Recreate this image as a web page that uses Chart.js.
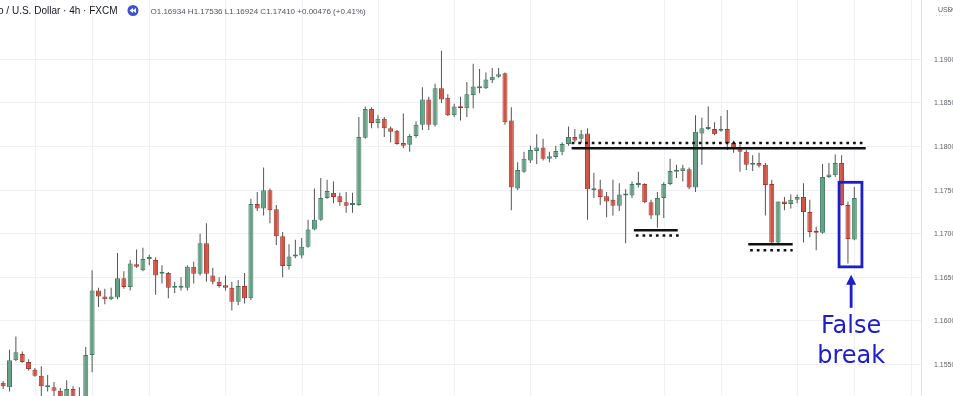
<!DOCTYPE html>
<html>
<head>
<meta charset="utf-8">
<script src="https://cdn.jsdelivr.net/npm/chart.js@4.4.1/dist/chart.umd.min.js"></script>
<style>
  html, body { margin: 0; padding: 0; background: #ffffff; }
  #wrap { width: 953px; height: 396px; position: relative; }
</style>
</head>
<body>
<div id="wrap"><canvas id="priceChart"></canvas></div>
<script>
// EUR/USD 4h candles
const opens = [
  1.1529, 1.1524, 1.1555, 1.1562, 1.1553, 1.1544, 1.1537, 1.1524, 1.1524, 1.1520,
  1.1509, 1.1522, 1.1513, 1.1503, 1.1561, 1.1635, 1.1628, 1.1625, 1.1627, 1.1649,
  1.1639, 1.1665, 1.1658, 1.1671, 1.1670, 1.1654, 1.1655, 1.1638, 1.1638, 1.1638,
  1.1662, 1.1654, 1.1689, 1.1652, 1.1645, 1.1641, 1.1638, 1.1622, 1.1640, 1.1626,
  1.1734, 1.1729, 1.1750, 1.1728, 1.1697, 1.1663, 1.1674, 1.1675, 1.1685, 1.1705,
  1.1716, 1.1741, 1.1747, 1.1743, 1.1736, 1.1733, 1.1733, 1.1810, 1.1843, 1.1827,
  1.1832, 1.1821, 1.1818, 1.1804, 1.1802, 1.1812, 1.1825, 1.1854, 1.1825, 1.1867,
  1.1856, 1.1836, 1.1846, 1.1844, 1.1859, 1.1867, 1.1867, 1.1876, 1.1880, 1.1884,
  1.1830, 1.1752, 1.1771, 1.1784, 1.1795, 1.1799, 1.1786, 1.1788, 1.1794, 1.1803,
  1.1811, 1.1809, 1.1815, 1.1750, 1.1751, 1.1743, 1.1739, 1.1732, 1.1744, 1.1744,
  1.1756, 1.1757, 1.1736, 1.1721, 1.1741, 1.1757, 1.1771, 1.1772, 1.1774, 1.1753,
  1.1815, 1.1820, 1.1820, 1.1818, 1.1820, 1.1804, 1.1798, 1.1794, 1.1779, 1.1781,
  1.1779, 1.1757, 1.1690, 1.1737, 1.1734, 1.1739, 1.1742, 1.1725, 1.1703, 1.1701,
  1.1765, 1.1767, 1.1781, 1.1733, 1.16934
];
const highs = [
  1.1531, 1.1567, 1.1582, 1.1565, 1.1556, 1.1546, 1.1548, 1.1538, 1.1530, 1.1523,
  1.1532, 1.1525, 1.1524, 1.1570, 1.1658, 1.1638, 1.1637, 1.1638, 1.1678, 1.1657,
  1.1670, 1.1682, 1.1684, 1.1676, 1.1673, 1.1664, 1.1656, 1.1645, 1.1650, 1.1664,
  1.1668, 1.1700, 1.1712, 1.1661, 1.1650, 1.1652, 1.1645, 1.1647, 1.1655, 1.1740,
  1.1748, 1.1776, 1.1752, 1.1733, 1.1702, 1.1688, 1.1693, 1.1695, 1.1716, 1.1752,
  1.1764, 1.1762, 1.1760, 1.1747, 1.1748, 1.1747, 1.1834, 1.1846, 1.1845, 1.1836,
  1.1834, 1.1823, 1.1819, 1.1838, 1.1814, 1.1829, 1.1868, 1.1857, 1.1872, 1.1910,
  1.1860, 1.1849, 1.1857, 1.1874, 1.1895, 1.1889, 1.1885, 1.1890, 1.1890, 1.1885,
  1.1845, 1.1782, 1.1794, 1.1801, 1.1814, 1.1809, 1.1794, 1.1801, 1.1805, 1.1823,
  1.1820, 1.1819, 1.1821, 1.1770, 1.1762, 1.1748, 1.1762, 1.1758, 1.1751, 1.1760,
  1.1771, 1.1758, 1.1739, 1.1748, 1.1759, 1.1786, 1.1779, 1.1779, 1.1776, 1.1836,
  1.1833, 1.1846, 1.1828, 1.1835, 1.1842, 1.1807, 1.1802, 1.1796, 1.1790, 1.1793,
  1.1781, 1.1762, 1.1737, 1.1742, 1.1745, 1.1745, 1.1758, 1.1739, 1.1708, 1.1780,
  1.1781, 1.1791, 1.1790, 1.1737, 1.17536
];
const lows = [
  1.1522, 1.1519, 1.1554, 1.1552, 1.1543, 1.1536, 1.1514, 1.1519, 1.1514, 1.1506,
  1.1506, 1.1505, 1.1496, 1.1500, 1.1541, 1.1616, 1.1619, 1.1624, 1.1625, 1.1637,
  1.1635, 1.1661, 1.1657, 1.1664, 1.1630, 1.1643, 1.1626, 1.1632, 1.1635, 1.1635,
  1.1643, 1.1652, 1.1645, 1.1642, 1.1638, 1.1635, 1.1612, 1.1618, 1.1620, 1.1624,
  1.1726, 1.1721, 1.1712, 1.1687, 1.1650, 1.1659, 1.1672, 1.1672, 1.1684, 1.1704,
  1.1715, 1.1740, 1.1735, 1.1732, 1.1724, 1.1724, 1.1732, 1.1809, 1.1821, 1.1821,
  1.1811, 1.1805, 1.1802, 1.1798, 1.1794, 1.1810, 1.1819, 1.1819, 1.1823, 1.1850,
  1.1835, 1.1834, 1.1830, 1.1834, 1.1844, 1.1861, 1.1866, 1.1873, 1.1879, 1.1825,
  1.1727, 1.1750, 1.1770, 1.1781, 1.1780, 1.1784, 1.1782, 1.1786, 1.1790, 1.1801,
  1.1805, 1.1804, 1.1716, 1.1741, 1.1733, 1.1719, 1.1721, 1.1726, 1.1689, 1.1741,
  1.1753, 1.1735, 1.1717, 1.1707, 1.1718, 1.1756, 1.1764, 1.1760, 1.1751, 1.1748,
  1.1779, 1.1819, 1.1813, 1.1817, 1.1796, 1.1793, 1.1771, 1.1773, 1.1772, 1.1776,
  1.1721, 1.1689, 1.1689, 1.1727, 1.1729, 1.1735, 1.1690, 1.1696, 1.1681, 1.1700,
  1.1764, 1.1765, 1.1732, 1.1666, 1.16924
];
const closes = [
  1.1525, 1.1555, 1.1564, 1.1553, 1.1545, 1.1537, 1.1525, 1.1526, 1.1520, 1.1509,
  1.1522, 1.1509, 1.1500, 1.1561, 1.1635, 1.1628, 1.1625, 1.1628, 1.1649, 1.1639,
  1.1666, 1.1662, 1.1671, 1.1672, 1.1652, 1.1655, 1.1638, 1.1639, 1.1640, 1.1662,
  1.1654, 1.1689, 1.1654, 1.1645, 1.1640, 1.1638, 1.1622, 1.1640, 1.1626, 1.1734,
  1.1729, 1.1750, 1.1727, 1.1697, 1.1663, 1.1674, 1.1675, 1.1685, 1.1705, 1.1716,
  1.1741, 1.1749, 1.1742, 1.1736, 1.1732, 1.1734, 1.1811, 1.1843, 1.1827, 1.1832,
  1.1821, 1.1817, 1.1803, 1.1801, 1.1812, 1.1825, 1.1854, 1.1825, 1.1867, 1.1854,
  1.1836, 1.1846, 1.1844, 1.1860, 1.1869, 1.1869, 1.1877, 1.1880, 1.1883, 1.1828,
  1.1753, 1.1773, 1.1786, 1.1796, 1.1799, 1.1786, 1.1789, 1.1795, 1.1803, 1.1811,
  1.1807, 1.1814, 1.1751, 1.1752, 1.1742, 1.1737, 1.1732, 1.1745, 1.1745, 1.1757,
  1.1757, 1.1736, 1.1721, 1.1741, 1.1757, 1.1772, 1.1773, 1.1775, 1.1753, 1.1817,
  1.1821, 1.1822, 1.1814, 1.1820, 1.1804, 1.1799, 1.1794, 1.1779, 1.1781, 1.1778,
  1.1756, 1.1690, 1.1737, 1.1734, 1.1739, 1.1742, 1.1725, 1.1702, 1.1701, 1.1765,
  1.1768, 1.1781, 1.1733, 1.1694, 1.17410
];

// 145 time slots; the last ones stay empty (right margin of the chart)
const slots = Array.from({ length: 145 }, (_, i) => i);
// candle index of each vertical time grid line
const timeGrid = [5, 14, 23, 35, 47, 59, 71, 83, 104, 113, 125, 134, 143];
const priceTicks = [1.155, 1.16, 1.165, 1.17, 1.175, 1.18, 1.185, 1.19];

// hand-drawn levels (candle index range, price)
const levels = [
  { price: 1.1798, from: 89.5, to: 135.8, dotted: false },
  { price: 1.1804, from: 89.5, to: 135.3, dotted: true },
  { price: 1.1704, from: 99.3, to: 106.2, dotted: false },
  { price: 1.1698, from: 99.6, to: 106.4, dotted: true },
  { price: 1.1688, from: 117.3, to: 124.3, dotted: false },
  { price: 1.1681, from: 117.6, to: 124.3, dotted: true },
];
const breakBox = { from: 131.6, to: 135.2, top: 1.1759, bottom: 1.1662 };
const arrow = { at: 133.5, tip: 1.1653, tail: 1.1615 };
const noteLines = [
  { text: "False", price: 1.1586 },
  { text: "break", price: 1.1552 },
];

const header = "Euro / U.S. Dollar · 4h · FXCM";
const ohlcText = "O1.16934 H1.17536 L1.16924 C1.17410 +0.00476 (+0.41%)";

// price shown at the very top of the window and price per pixel
const TOP_PRICE = 1.19681, PER_PX = 0.0001147;

const UP = "#66a086", UP_EDGE = "#3f7c61";
const DOWN = "#cf5447", DOWN_EDGE = "#a5372c";
const WICK = "#545454";
const BLUE = "#1d1dc9";
const GRID = "#eef0f4";
const AXIS_TEXT = "#5f626c";

const isUp = opens.map((o, i) => closes[i] >= o);

const annotations = {
  id: "annotations",
  beforeDatasetsDraw(chart) {
    // vertical time grid
    const { ctx, chartArea, scales: { x } } = chart;
    ctx.save();
    ctx.strokeStyle = GRID;
    ctx.lineWidth = 1;
    timeGrid.forEach((t) => {
      const px = Math.round(x.getPixelForValue(t)) + 0.5;
      ctx.beginPath();
      ctx.moveTo(px, chartArea.top);
      ctx.lineTo(px, chartArea.bottom);
      ctx.stroke();
    });
    ctx.restore();
  },
  afterDatasetsDraw(chart) {
    const { ctx, scales: { x, y } } = chart;
    ctx.save();

    // support / resistance lines
    levels.forEach((l) => {
      ctx.beginPath();
      ctx.strokeStyle = "#111111";
      ctx.lineWidth = 2.6;
      ctx.setLineDash(l.dotted ? [2.7, 4] : []);
      const py = y.getPixelForValue(l.price);
      ctx.moveTo(x.getPixelForValue(l.from), py);
      ctx.lineTo(x.getPixelForValue(l.to), py);
      ctx.stroke();
    });
    ctx.setLineDash([]);

    // box round the false break candles
    const bx1 = x.getPixelForValue(breakBox.from);
    const bx2 = x.getPixelForValue(breakBox.to);
    const by1 = y.getPixelForValue(breakBox.top);
    const by2 = y.getPixelForValue(breakBox.bottom);
    ctx.strokeStyle = BLUE;
    ctx.lineWidth = 2.8;
    ctx.strokeRect(bx1, by1, bx2 - bx1, by2 - by1);

    // arrow
    const ax = x.getPixelForValue(arrow.at);
    const tipY = y.getPixelForValue(arrow.tip);
    const tailY = y.getPixelForValue(arrow.tail);
    ctx.beginPath();
    ctx.lineWidth = 2.8;
    ctx.moveTo(ax, tailY);
    ctx.lineTo(ax, tipY + 8);
    ctx.stroke();
    ctx.beginPath();
    ctx.fillStyle = BLUE;
    ctx.moveTo(ax, tipY);
    ctx.lineTo(ax - 5, tipY + 10);
    ctx.lineTo(ax + 5, tipY + 10);
    ctx.closePath();
    ctx.fill();

    // label
    ctx.font = '24px "DejaVu Sans"';
    ctx.textAlign = "center";
    ctx.textBaseline = "alphabetic";
    noteLines.forEach((n) => {
      ctx.fillText(n.text, ax, y.getPixelForValue(n.price));
    });
    ctx.restore();
  },
  afterDraw(chart) {
    const { ctx, scales: { y } } = chart;
    ctx.save();

    // price labels (drawn here so the axis adds no padding above and below)
    ctx.font = '7px "Liberation Sans"';
    ctx.fillStyle = AXIS_TEXT;
    ctx.textAlign = "left";
    ctx.textBaseline = "middle";
    priceTicks.forEach((p) => {
      ctx.fillText(p.toFixed(5), 934, y.getPixelForValue(p) + 0.5);
    });
    ctx.textBaseline = "alphabetic";

    // symbol header
    ctx.font = '10px "Liberation Sans"';
    ctx.fillStyle = "#131722";
    ctx.textAlign = "right";
    ctx.fillText(header, 117.5, 14);

    // replay icon
    ctx.beginPath();
    ctx.fillStyle = "#3f51d4";
    ctx.arc(133, 10.5, 5.5, 0, Math.PI * 2);
    ctx.fill();
    ctx.fillStyle = "#ffffff";
    ctx.beginPath();
    ctx.moveTo(129.5, 10.5); ctx.lineTo(133, 8); ctx.lineTo(133, 13); ctx.closePath();
    ctx.moveTo(132.5, 10.5); ctx.lineTo(136, 8); ctx.lineTo(136, 13); ctx.closePath();
    ctx.fill();

    ctx.font = '8px "Liberation Sans"';
    ctx.fillStyle = "#50535e";
    ctx.textAlign = "left";
    ctx.fillText(ohlcText, 150.5, 14);

    // currency button on the price axis
    ctx.font = '7px "Liberation Sans"';
    ctx.fillStyle = AXIS_TEXT;
    ctx.fillText("USD", 938, 12);
    ctx.beginPath();
    ctx.strokeStyle = AXIS_TEXT;
    ctx.lineWidth = 0.8;
    ctx.moveTo(948.5, 8.5); ctx.lineTo(950.5, 10.5); ctx.lineTo(952.5, 8.5);
    ctx.stroke();
    ctx.beginPath();
    ctx.setLineDash([1, 2]);
    ctx.strokeStyle = "#c9ccd3";
    ctx.moveTo(936, 15.5); ctx.lineTo(953, 15.5);
    ctx.stroke();
    ctx.restore();
  },
};

const ctx = document.getElementById("priceChart").getContext("2d");
const chart = new Chart(ctx, {
  type: "bar",
  data: {
    labels: slots,
    datasets: [
      {
        label: "body",
        data: opens.map((o, i) => [Math.min(o, closes[i]), Math.max(o, closes[i])]),
        backgroundColor: isUp.map((u) => (u ? UP : DOWN)),
        borderColor: isUp.map((u) => (u ? UP_EDGE : DOWN_EDGE)),
        borderWidth: 1,
        borderSkipped: false,
        barThickness: 5,
        minBarLength: 2,
        inflateAmount: 0,
        grouped: false,
      },
      {
        label: "wick",
        data: lows.map((l, i) => [l, highs[i]]),
        backgroundColor: WICK,
        borderWidth: 0,
        barThickness: 1,
        inflateAmount: 0,
        grouped: false,
      },
    ],
  },
  options: {
    responsive: true,
    maintainAspectRatio: false,
    animation: false,
    layout: { padding: 0 },
    plugins: { legend: { display: false }, tooltip: { enabled: false } },
    scales: {
      x: {
        type: "category",
        offset: true,
        display: false,
      },
      y: {
        position: "right",
        min: TOP_PRICE - PER_PX * 396,
        max: TOP_PRICE,
        afterBuildTicks: (s) => { s.ticks = priceTicks.map((v) => ({ value: v })); },
        afterFit: (s) => { s.width = 32; },
        ticks: { display: false },
        grid: { color: GRID, drawTicks: false },
        border: { display: true, color: "#e0e3eb" },
      },
    },
  },
  plugins: [annotations],
});

// keep the price-to-pixel mapping of the screenshot whatever the chart area ends up being
const area = chart.chartArea;
chart.options.scales.y.min = TOP_PRICE - PER_PX * area.bottom;
chart.options.scales.y.max = TOP_PRICE - PER_PX * area.top;
chart.update();
</script>
</body>
</html>
